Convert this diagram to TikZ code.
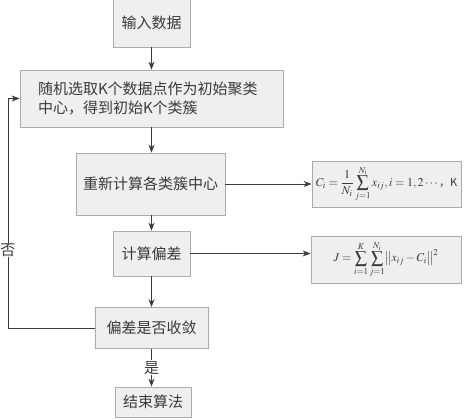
\documentclass[tikz,border=0pt]{standalone}
\usepackage{mathptmx}
\usepackage{fontspec}
\newfontfamily\cjk{Noto Sans CJK SC}
\usetikzlibrary{arrows.meta}
\definecolor{boxfill}{HTML}{EFEFEF}
\definecolor{boxline}{HTML}{ABABAB}
\definecolor{ink}{HTML}{3A3A3A}
\begin{document}
\begin{tikzpicture}[x=1pt,y=-1pt,line width=0.9pt,>={Stealth[length=8pt,width=6pt]},
  stepbox/.style={draw=boxline,fill=boxfill,line width=0.8pt,text=ink,inner sep=0pt,
    font=\cjk\fontsize{15}{19}\selectfont},
  formbox/.style={stepbox,font=\fontsize{12}{14}\selectfont},
  lbl/.style={fill=white,text=ink,inner sep=1pt,font=\cjk\fontsize{15}{19}\selectfont}]
\useasboundingbox (0,0) rectangle (474,420);

\node[stepbox,minimum width=77pt,minimum height=49pt] (input) at (151.5,22.5) {输入数据};
\node[stepbox,minimum width=263pt,minimum height=57pt,text width=227pt,align=left,inner xsep=18pt] (init) at (151.5,98.5)
  {随机选取K个数据点作为初始聚类\\中心，得到初始K个类簇};
\node[stepbox,minimum width=149pt,minimum height=62pt] (update) at (150.5,184) {重新计算各类簇中心};
\node[stepbox,minimum width=77pt,minimum height=45pt] (err) at (151.5,253.5) {计算偏差};
\node[stepbox,minimum width=113pt,minimum height=41pt] (conv) at (151.5,328) {偏差是否收敛};
\node[stepbox,minimum width=76pt,minimum height=30pt] (stop) at (153,402) {结束算法};

\node[formbox,minimum width=149pt,minimum height=46pt] (cform) at (386.5,184)
  {$\displaystyle C_i=\frac{1}{N_i}\sum_{j=1}^{N_i}x_{ij},i=1,2\cdots\mbox{\cjk\fontsize{11}{13}\selectfont ，K}$};
\node[formbox,minimum width=150pt,minimum height=47pt] (jform) at (386,259.5)
  {$\displaystyle J=\sum_{i=1}^{K}\sum_{j=1}^{N_i}\bigl\|x_{ij}-C_i\bigr\|^2$};

\coordinate (axis) at (151.5,0);
\coordinate (back) at (8,328);

\draw[->,ink] (input.south -| axis) -- (init.north -| axis);
\draw[->,ink] (init.south -| axis) -- (update.north -| axis);
\draw[->,ink] (update.south -| axis) -- (err.north -| axis);
\draw[->,ink] (err.south -| axis) -- (conv.north -| axis);
\draw[->,ink] (conv.south -| axis) -- node[lbl] {是} (stop.north -| axis);
\draw[->,ink] (update.east) -- (update.east -| cform.west);
\draw[->,ink] (err.east) -- (err.east -| jform.west);
\draw[->,ink] (conv.west) -- (back) |- node[lbl,pos=0.17] {否} (init.west);
\end{tikzpicture}
\end{document}
